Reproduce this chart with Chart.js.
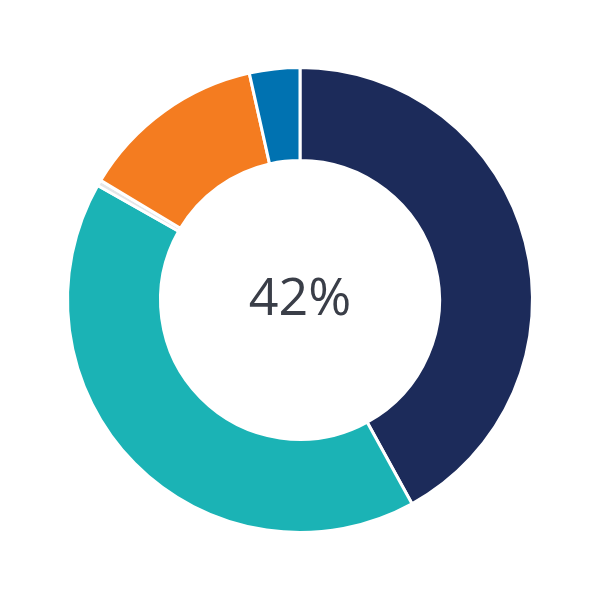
<!DOCTYPE html>
<html lang="en">
<head>
<script src="https://cdn.jsdelivr.net/npm/chart.js@4.4.0/dist/chart.umd.min.js"></script>
<style>
  html, body { margin: 0; padding: 0; background: #fff; }
  #wrap { width: 600px; height: 600px; position: relative; }
</style>
</head>
<body>
<div id="wrap"><canvas id="myChart"></canvas></div>
<script>
// segment shares, clockwise from the top
const labels = ['Navy', 'Teal', 'Other', 'Orange', 'Blue'];
const values = [42, 41.2, 0.4, 12.9, 3.5];
const colours = ['#1c2b5a', '#1bb3b5', '#e4e6e8', '#f47c20', '#0072b1'];
const centreText = '42%';

const centreLabel = {
  id: 'centreLabel',
  afterDraw(chart) {
    const meta = chart.getDatasetMeta(0);
    if (!meta.data.length) return;
    const { x, y } = meta.data[0];
    const ctx = chart.ctx;
    ctx.save();
    ctx.font = '400 52px "Open Sans", Lato, sans-serif';
    ctx.fillStyle = '#3a3e48';
    ctx.textAlign = 'center';
    ctx.textBaseline = 'middle';
    ctx.fillText(centreText, x, y);
    ctx.restore();
  }
};

const ctx = document.getElementById('myChart').getContext('2d');
new Chart(ctx, {
  type: 'doughnut',
  data: {
    labels: labels,
    datasets: [{
      data: values,
      backgroundColor: colours,
      borderColor: '#ffffff',
      borderWidth: 3
    }]
  },
  options: {
    responsive: true,
    maintainAspectRatio: false,
    animation: false,
    cutout: '60%',
    layout: { padding: 66 },
    plugins: {
      legend: { display: false },
      tooltip: { enabled: false }
    }
  },
  plugins: [centreLabel]
});
</script>
</body>
</html>
